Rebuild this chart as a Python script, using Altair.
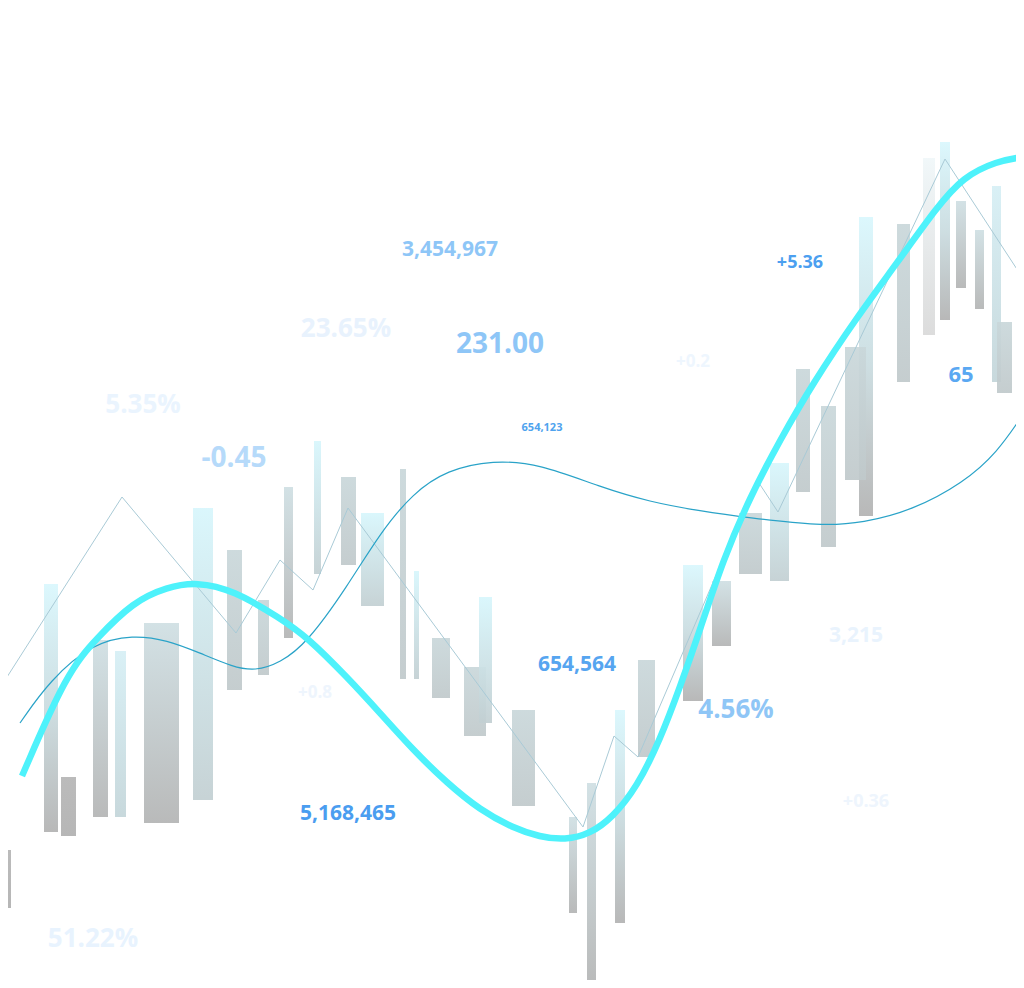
import altair as alt
import pandas as pd

# ---- candle bodies: left edge, right edge, top level, bottom level, style ----
bar_x0 = [0, 44, 61, 93, 115, 144, 193, 227, 258, 284, 314, 341, 361, 400, 414, 432, 464, 479, 512,
          569, 587, 615, 638, 683, 712, 739, 770, 796, 821, 845, 859, 897, 923, 940, 956, 975, 992, 997]
bar_x1 = [11, 58, 76, 108, 126, 179, 213, 242, 269, 293, 321, 356, 384, 406, 419, 450, 486, 492, 535,
          577, 596, 625, 655, 703, 731, 762, 789, 810, 836, 866, 873, 910, 935, 950, 966, 984, 1001, 1012]
bar_top = [850, 584, 777, 640, 651, 623, 508, 550, 600, 487, 441, 477, 513, 469, 571, 638, 667, 597, 710,
           817, 783, 710, 660, 565, 581, 513, 463, 369, 406, 347, 217, 224, 158, 142, 201, 230, 186, 322]
bar_bot = [908, 832, 836, 817, 817, 823, 800, 690, 675, 638, 574, 565, 606, 679, 679, 698, 736, 723, 806,
           913, 987, 923, 757, 701, 646, 574, 581, 492, 547, 480, 516, 382, 335, 320, 288, 309, 382, 393]
bar_style = ["D", "A", "D", "B", "C", "B", "E", "C2", "C2", "B", "E", "C2", "E", "C2", "E", "C2", "C2", "E", "C2",
             "B", "B", "A", "C2", "A", "B", "C2", "E", "C2", "C2", "C2", "A", "C2", "F", "A", "B", "B", "C", "C2"]

# ---- thick cyan trend curve ----
cyan_x = [22, 67, 97, 133, 167, 197, 233, 280, 307, 347, 380, 413, 447, 480, 513, 540, 565, 590, 613,
          637, 660, 680, 700, 723, 750, 780, 813, 857, 897, 937, 963, 997, 1023]
cyan_y = [776, 672, 638, 602, 587, 582, 590, 618, 637, 677, 713, 750, 783, 810, 828, 837, 840, 834, 817,
          787, 740, 687, 630, 560, 497, 440, 383, 317, 263, 207, 177, 161, 157]

# ---- thin teal moving-average curve ----
teal_x = [20, 50, 93, 133, 167, 200, 233, 255, 280, 307, 347, 380, 413, 447, 493, 540, 600, 650, 700,
          750, 820, 863, 913, 963, 997, 1024]
teal_y = [723, 680, 643, 635, 640, 653, 667, 671, 663, 643, 587, 533, 493, 470, 460, 464, 487, 502, 511,
          518, 526, 523, 510, 483, 453, 413]

# ---- zig-zag price line ----
zig_x = [0, 122, 236, 280, 313, 348, 583, 614, 638, 757, 778, 945, 1024]
zig_y = [688, 497, 633, 560, 590, 508, 827, 736, 757, 480, 512, 159, 280]

# ---- floating labels ----
lab_text = ["3,454,967", "231.00", "5.35%", "-0.45", "23.65%", "654,123", "+0.2", "65", "+5.36",
            "654,564", "4.56%", "3,215", "+0.36", "+0.8", "5,168,465", "51.22%"]
lab_x = [450, 500, 143, 234, 346, 542, 693, 961, 800, 577, 736, 856, 866, 315, 348, 93]
lab_y = [256, 353, 413, 467, 337, 431, 367, 382, 268, 671, 718, 642, 807, 698, 820, 947]
lab_size = [21, 28, 26, 28, 26, 11, 17, 22, 18, 21, 26, 21, 18, 17, 21, 26]
lab_color = ["#8ec6f7", "#8ec6f7", "#eaf4fe", "#b6dafa", "#e8f2fd", "#4fa3ee", "#eef6fe", "#5aa8f2",
             "#4c9ff0", "#56a5f0", "#8fc6f6", "#e9f3fd", "#eef5fd", "#eef5fd", "#4a9df0", "#e8f3fe"]

STYLES = {
    "A": [("#d9f7fd", 0), ("#c9dbdf", 0.5), ("#b2b2b2", 1)],
    "B": [("#cfdfe3", 0), ("#b3b4b4", 1)],
    "C": [("#d6eff5", 0), ("#c3d5d9", 1)],
    "C2": [("#c9d7da", 0), ("#c0c9cb", 1)],
    "E": [("#d7f6fc", 0), ("#c2cfd2", 1)],
    "D": [("#b5b5b5", 0), ("#b0b0b0", 1)],
    "F": [("#f0f7f9", 0), ("#d9d9d9", 1)],
}

XS = alt.Scale(domain=[8, 1016])
YS = alt.Scale(domain=[8, 980], reverse=True)

bars = pd.DataFrame({"x0": bar_x0, "x1": bar_x1, "top": bar_top, "bot": bar_bot, "style": bar_style})

layers = []
for key, stops in STYLES.items():
    grad = alt.Gradient(
        gradient="linear",
        stops=[alt.GradientStop(color=c, offset=o) for c, o in stops],
        x1=0, x2=0, y1=0, y2=1,
    )
    layers.append(
        alt.Chart(bars[bars["style"] == key]).mark_rect(color=grad, opacity=0.92, clip=True).encode(
            x=alt.X("x0:Q", scale=XS, axis=None),
            x2="x1:Q",
            y=alt.Y("top:Q", scale=YS, axis=None),
            y2="bot:Q",
        )
    )

zig = alt.Chart(pd.DataFrame({"x": zig_x, "y": zig_y})).mark_line(
    color="#a9cad6", strokeWidth=1, clip=True
).encode(x=alt.X("x:Q", scale=XS, axis=None), y=alt.Y("y:Q", scale=YS, axis=None))

teal = alt.Chart(pd.DataFrame({"x": teal_x, "y": teal_y})).mark_line(
    color="#2aa3c8", strokeWidth=1.2, interpolate="basis", clip=True
).encode(x=alt.X("x:Q", scale=XS, axis=None), y=alt.Y("y:Q", scale=YS, axis=None))

cyan = alt.Chart(pd.DataFrame({"x": cyan_x, "y": cyan_y})).mark_line(
    color="#4ef2fb", strokeWidth=6.5, interpolate="basis", clip=True
).encode(x=alt.X("x:Q", scale=XS, axis=None), y=alt.Y("y:Q", scale=YS, axis=None))

labels = alt.Chart(pd.DataFrame({"t": lab_text, "x": lab_x, "y": lab_y, "s": lab_size, "c": lab_color})).mark_text(
    font="Open Sans", fontWeight="bold", align="center", baseline="alphabetic"
).encode(
    x=alt.X("x:Q", scale=XS, axis=None),
    y=alt.Y("y:Q", scale=YS, axis=None),
    text="t:N",
    size=alt.Size("s:Q", scale=None, legend=None),
    color=alt.Color("c:N", scale=None, legend=None),
)

chart = alt.layer(*layers, zig, teal, cyan, labels).properties(
    width=1008, height=972, padding=0, background="white"
).configure_view(stroke=None)

chart.save("out.html", embed_options={"renderer": "svg", "actions": False})
